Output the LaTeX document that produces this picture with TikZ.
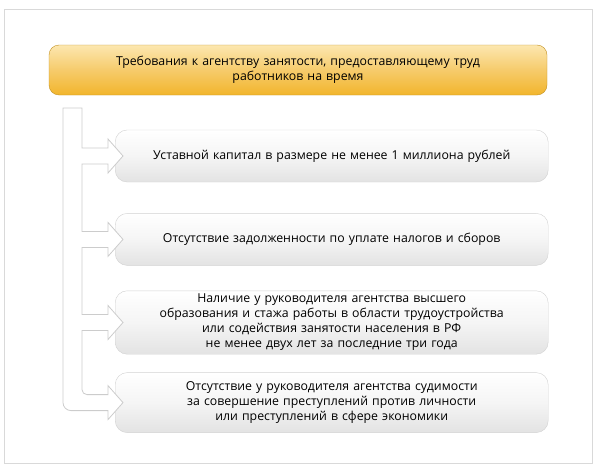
\documentclass[tikz,border=0pt]{standalone}
\usepackage{fontspec}
\setmainfont{Open Sans}
\usetikzlibrary{positioning, calc}
\definecolor{gold}{HTML}{F2B52C}
\definecolor{goldlight}{HTML}{FCE7B0}
\tikzstyle{headbox} = [rectangle, draw=gold!80!black, rounded corners=10pt, text width=440pt, align=center, minimum width=498pt, minimum height=50pt, top color=goldlight, bottom color=gold, middle color=gold!70, font=\fontsize{12.3}{15}\selectfont]
\tikzstyle{reqbox} = [rectangle, draw=gray!35, rounded corners=12pt, text width=385pt, align=center, minimum width=433pt, top color=white, bottom color=gray!22, middle color=gray!8, font=\fontsize{12.3}{15}\selectfont]
\tikzstyle{band} = [draw=gray!40, fill=white, line width=0.8pt, line join=miter]
\begin{document}
\begin{tikzpicture}[x=1pt, y=1pt]
        \useasboundingbox (0,0) rectangle (600,-471);
        \draw[gray!30, line width=1pt] (4,-9) rectangle (592,-463);
        \node [headbox] (head) at (298,-70) {Требования к агентству занятости, предоставляющему труд\\работников на время};
        \node [reqbox, minimum height=52pt, anchor=west] (capital) at (115,-156) {Уставной капитал в размере не менее 1 миллиона рублей};
        \node [reqbox, minimum height=52pt, below=31pt of capital] (taxes) {Отсутствие задолженности по уплате налогов и сборов};
        \node [reqbox, minimum height=60pt, below=25pt of taxes] (education) {Наличие у руководителя агентства высшего образования и стажа работы в области трудоустройства или содействия занятости населения в РФ не менее двух лет за последние три года};
        \node [reqbox, minimum height=60pt, below=18pt of education] (record) {Отсутствие у руководителя агентства судимости за совершение преступлений против личности или преступлений в сфере экономики};

        % hollow branching connector
        \path [band] (63,-108) -- (82,-108)
            -- ($(capital.west)+(-33,8)$) -- ++(26,0) -- ++(0,9) -- ($(capital.west)+(8,0)$) -- ++(-15,-17) -- ++(0,9) -- ++(-26,0)
            -- ($(taxes.west)+(-33,8)$) -- ++(26,0) -- ++(0,9) -- ($(taxes.west)+(8,0)$) -- ++(-15,-17) -- ++(0,9) -- ++(-26,0)
            -- ($(education.west)+(-33,8)$) -- ++(26,0) -- ++(0,9) -- ($(education.west)+(8,0)$) -- ++(-15,-17) -- ++(0,9) -- ++(-26,0)
            [rounded corners=5pt] -- ($(record.west)+(-33,8)$) [sharp corners] -- ++(26,0) -- ++(0,9) -- ($(record.west)+(8,0)$) -- ++(-15,-17) -- ++(0,9)
            [rounded corners=8pt] -- ($(record.west)+(-52,-8)$) [sharp corners] -- cycle;
    \end{tikzpicture}
\end{document}
